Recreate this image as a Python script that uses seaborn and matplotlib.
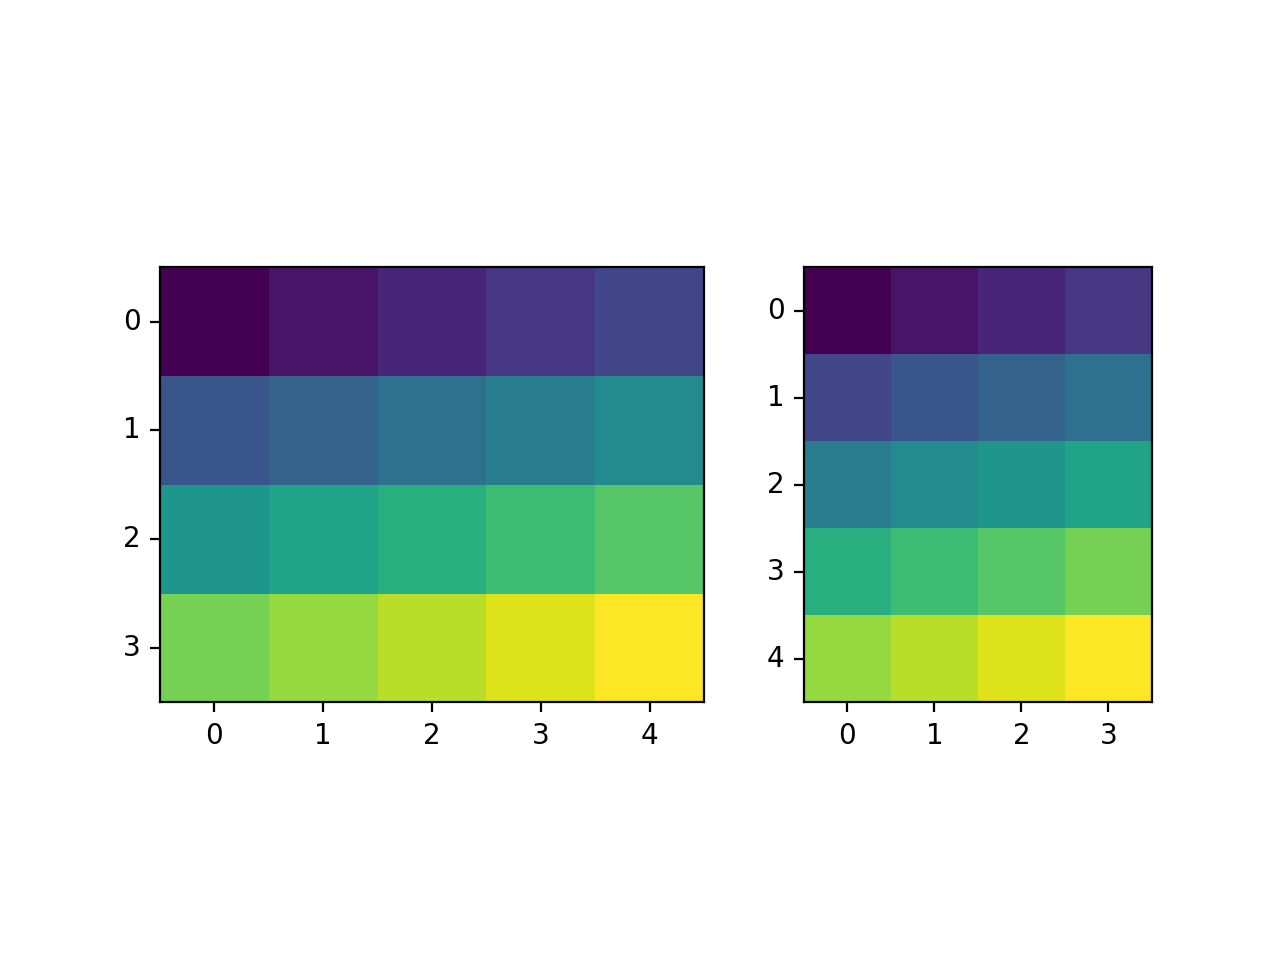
import numpy as np
import seaborn as sns
import matplotlib.pyplot as plt
from mpl_toolkits.axes_grid1.axes_divider import HBoxDivider
import mpl_toolkits.axes_grid1.axes_size as Size

# cell values, read row by row
left_values = [
    [0, 1, 2, 3, 4],
    [5, 6, 7, 8, 9],
    [10, 11, 12, 13, 14],
    [15, 16, 17, 18, 19],
]
right_values = [
    [0, 1, 2, 3],
    [4, 5, 6, 7],
    [8, 9, 10, 11],
    [12, 13, 14, 15],
    [16, 17, 18, 19],
]
left_xticks = ["0", "1", "2", "3", "4"]
left_yticks = ["0", "1", "2", "3"]
right_xticks = ["0", "1", "2", "3"]
right_yticks = ["0", "1", "2", "3", "4"]

fig, (ax1, ax2) = plt.subplots(1, 2, figsize=(6.4, 4.8), dpi=200)

for ax, vals, xt, yt in [
    (ax1, left_values, left_xticks, left_yticks),
    (ax2, right_values, right_xticks, right_yticks),
]:
    sns.heatmap(np.array(vals), ax=ax, cmap="viridis", vmin=0, vmax=19,
                cbar=False, square=True, xticklabels=xt, yticklabels=yt)
    ax.tick_params(axis="y", labelrotation=0)
    ax.tick_params(axis="x", labelrotation=0)
    for spine in ax.spines.values():
        spine.set_visible(True)
        spine.set_linewidth(0.8)
        spine.set_color("black")

# both panels same height, 0.5 inch gap between them
pad = 0.5
divider = HBoxDivider(
    fig, 111,
    horizontal=[Size.AxesX(ax1), Size.Fixed(pad), Size.AxesX(ax2)],
    vertical=[Size.AxesY(ax1), Size.Scaled(1), Size.AxesY(ax2)])
ax1.set_axes_locator(divider.new_locator(0))
ax2.set_axes_locator(divider.new_locator(2))

plt.savefig("out.png")
plt.close()
